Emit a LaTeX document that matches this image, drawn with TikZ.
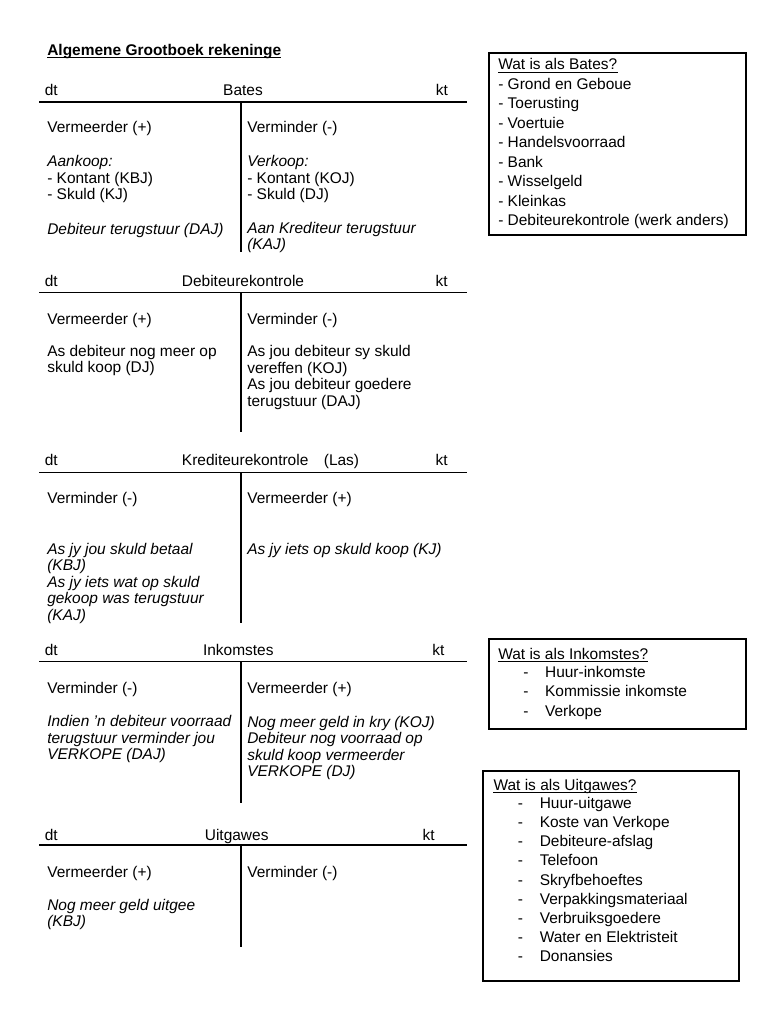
\documentclass[tikz,border=0pt]{standalone}
\usepackage{fontspec}
\setmainfont{Liberation Sans}
\tikzset{
  txt/.style={anchor=base west,inner sep=0pt,align=left,
    font=\fontsize{11}{11.7}\selectfont},
  ital/.style={txt,font=\fontsize{11}{11.7}\selectfont\itshape},
  hdr/.style={anchor=base,inner sep=0pt,font=\fontsize{11}{13}\selectfont},
  lst/.style={txt,font=\fontsize{11}{13.65}\selectfont},
  tline/.style={line width=1pt},
  wbox/.style={draw,line width=1.5pt},
  uline/.style={line width=0.6pt}
}
\newcommand{\dash}[1]{\makebox[15.5pt][l]{-}#1}

\begin{document}
\begin{tikzpicture}[x=0.711pt,y=-0.711pt]
 \useasboundingbox (0,0) rectangle (768,1024);
 % title
 \node[txt,font=\fontsize{11}{13}\selectfont\bfseries] (title) at (47,56) {Algemene Grootboek rekeninge};
 \draw[line width=0.75pt] ([yshift=-1.1pt]title.base west) -- ([yshift=-1.1pt]title.base east);

 % Bates (multi-line nodes sit on their last line)
 \node[hdr] (b-dt) at (51.3,95.5) {dt};
 \node[hdr] (b-name) at (243,95.5) {Bates};
 \node[hdr] (b-kt) at (442,95.5) {kt};
 \coordinate (b-l) at (39,102); \coordinate (b-r) at (467,102);
 \coordinate (b-m) at (241,102); \coordinate (b-e) at (241,252);
 \draw[tline] (b-l) -- (b-r); \draw[tline] (b-m) -- (b-e);
 \node[txt] (b-dr) at (47,133) {Vermeerder (+)};
 \node[txt] (b-kr) at (247,133) {Verminder (-)};
 \node[txt] (b-d1) at (47,199.5) {\textit{Aankoop:}\\- Kontant (KBJ)\\- Skuld (KJ)};
 \node[txt] (b-k1) at (247,199.5) {\textit{Verkoop:}\\- Kontant (KOJ)\\- Skuld (DJ)};
 \node[ital] (b-d2) at (47,234) {Debiteur terugstuur (DAJ)};
 \node[ital] (b-k2) at (247,249.5) {Aan Krediteur terugstuur\\(KAJ)};

 % Wat is als Bates?
 \draw[wbox] (489,53) rectangle (746,235);
 \node[txt] (bb-h) at (498,70) {Wat is als Bates?};
 \draw[uline] ([yshift=-1.6pt]bb-h.base west) -- ([yshift=-1.6pt]bb-h.base east);
 \node[lst,font=\fontsize{11}{13.85}\selectfont] (bb-l) at (498,225.7) {- Grond en Geboue\\- Toerusting\\- Voertuie\\- Handelsvoorraad\\- Bank\\- Wisselgeld\\- Kleinkas\\- Debiteurekontrole (werk anders)};

 % Debiteurekontrole
 \node[hdr] (d-dt) at (51.3,286) {dt};
 \node[hdr] (d-name) at (243,286) {Debiteurekontrole};
 \node[hdr] (d-kt) at (441.7,286) {kt};
 \coordinate (d-l) at (39,292.3); \coordinate (d-r) at (467,292.3);
 \coordinate (d-m) at (241,292.3); \coordinate (d-e) at (241,432);
 \draw[tline] (d-l) -- (d-r); \draw[tline] (d-m) -- (d-e);
 \node[txt] (d-dr) at (47,324.3) {Vermeerder (+)};
 \node[txt] (d-kr) at (247,324.3) {Verminder (-)};
 \node[txt] (d-d1) at (47,372.8) {As debiteur nog meer op\\skuld koop (DJ)};
 \node[txt] (d-k1) at (247,406.2) {As jou debiteur sy skuld\\vereffen (KOJ)\\As jou debiteur goedere\\terugstuur (DAJ)};

 % Krediteurekontrole
 \node[hdr] (k-dt) at (51.3,465.7) {dt};
 \node[hdr,anchor=base west] (k-name) at (181.7,465.7) {Krediteurekontrole\quad (Las)};
 \node[hdr] (k-kt) at (441.7,465.7) {kt};
 \coordinate (k-l) at (39,472.3); \coordinate (k-r) at (467,472.3);
 \coordinate (k-m) at (241,472.3); \coordinate (k-e) at (241,623);
 \draw[tline] (k-l) -- (k-r); \draw[tline] (k-m) -- (k-e);
 \node[txt] (k-dr) at (47,503.3) {Verminder (-)};
 \node[txt] (k-kr) at (247,503.3) {Vermeerder (+)};
 \node[ital] (k-d1) at (47,620) {As jy jou skuld betaal\\(KBJ)\\As jy iets wat op skuld\\gekoop was terugstuur\\(KAJ)};
 \node[ital] (k-k1) at (247,554.3) {As jy iets op skuld koop (KJ)};

 % Inkomstes
 \node[hdr] (i-dt) at (51.3,655.7) {dt};
 \node[hdr] (i-name) at (238.3,655.7) {Inkomstes};
 \node[hdr] (i-kt) at (438.5,655.7) {kt};
 \coordinate (i-l) at (39,661.7); \coordinate (i-r) at (467,661.7);
 \coordinate (i-m) at (241,661.7); \coordinate (i-e) at (241,803);
 \draw[tline] (i-l) -- (i-r); \draw[tline] (i-m) -- (i-e);
 \node[txt] (i-dr) at (47,693.3) {Verminder (-)};
 \node[txt] (i-kr) at (247,693.3) {Vermeerder (+)};
 \node[ital] (i-d1) at (47,759.5) {Indien 'n debiteur voorraad\\terugstuur verminder jou\\VERKOPE (DAJ)};
 \node[ital] (i-k1) at (247,776.5) {Nog meer geld in kry (KOJ)\\Debiteur nog voorraad op\\skuld koop vermeerder\\VERKOPE (DJ)};

 % Wat is als Inkomstes?
 \draw[wbox] (489,639.3) rectangle (746,729.3);
 \node[txt] (ib-h) at (498,659) {Wat is als Inkomstes?};
 \draw[uline] ([yshift=-1.6pt]ib-h.base west) -- ([yshift=-1.6pt]ib-h.base east);
 \node[lst] (ib-l) at (523,716.1) {\dash{Huur-inkomste}\\\dash{Kommissie inkomste}\\\dash{Verkope}};

 % Wat is als Uitgawes?
 \draw[wbox] (483.3,771) rectangle (739,980.7);
 \node[txt] (ub-h) at (493.3,790) {Wat is als Uitgawes?};
 \draw[uline] ([yshift=-1.6pt]ub-h.base west) -- ([yshift=-1.6pt]ub-h.base east);
 \node[lst] (ub-l) at (517.7,961.9) {\dash{Huur-uitgawe}\\\dash{Koste van Verkope}\\\dash{Debiteure-afslag}\\\dash{Telefoon}\\\dash{Skryfbehoeftes}\\\dash{Verpakkingsmateriaal}\\\dash{Verbruiksgoedere}\\\dash{Water en Elektristeit}\\\dash{Donansies}};

 % Uitgawes
 \node[hdr] (u-dt) at (51.3,840) {dt};
 \node[hdr] (u-name) at (236.7,840) {Uitgawes};
 \node[hdr] (u-kt) at (428.7,840) {kt};
 \coordinate (u-l) at (39,845); \coordinate (u-r) at (467,845);
 \coordinate (u-m) at (241,845); \coordinate (u-e) at (241,947);
 \draw[tline] (u-l) -- (u-r); \draw[tline] (u-m) -- (u-e);
 \node[txt] (u-dr) at (47,877.3) {Vermeerder (+)};
 \node[txt] (u-kr) at (247,877.3) {Verminder (-)};
 \node[ital] (u-d1) at (47,926.5) {Nog meer geld uitgee\\(KBJ)};
\end{tikzpicture}
\end{document}
